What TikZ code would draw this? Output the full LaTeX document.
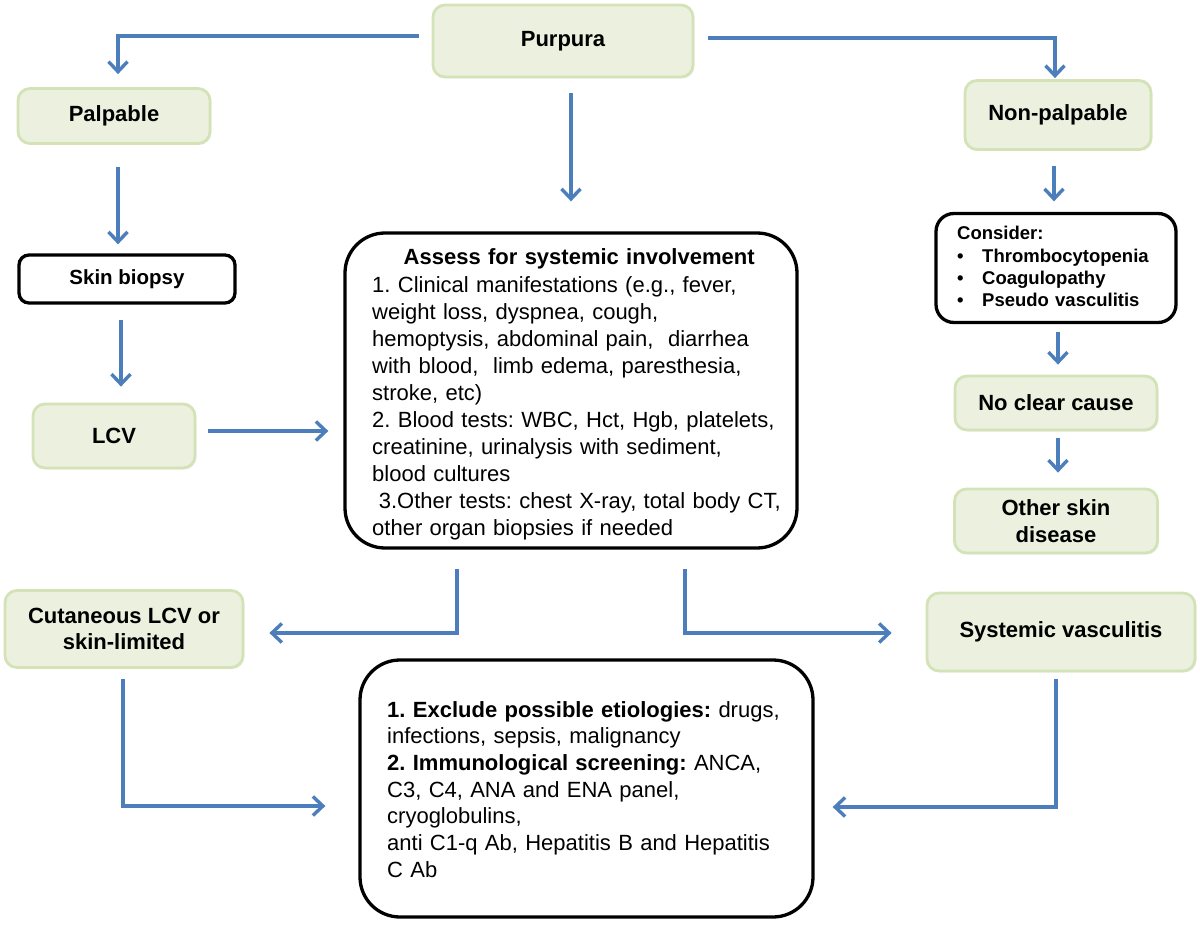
\documentclass[tikz,border=0pt]{standalone}
\usepackage{fontspec}
\setmainfont{Liberation Sans}
\usetikzlibrary{arrows.meta,calc,shadows}
\definecolor{gfill}{RGB}{235,241,222}
\definecolor{gline}{RGB}{212,226,184}
\definecolor{arrblue}{RGB}{76,126,188}
\frenchspacing
\tikzset{
  gbox/.style={draw=gline, fill=gfill, line width=2.8pt, rounded corners=12pt, inner sep=0pt,
    align=center, font=\fontsize{22}{26.5}\selectfont\bfseries,
    drop shadow={opacity=0.12, shadow xshift=1.5pt, shadow yshift=-1.5pt}},
  kbox/.style={draw=black, fill=white, line width=3.3pt, inner sep=0pt},
  arr/.style={draw=arrblue, line width=3.4pt, -{Straight Barb[length=10pt,width=19pt]}},
  txt/.style={inner sep=0pt, anchor=base west, align=left},
}
\begin{document}
\begin{tikzpicture}[x=1pt,y=-1pt]
\useasboundingbox (0,0) rectangle (1200,925);

% green boxes
\node[gbox, minimum width=260pt, minimum height=72pt] (purpura) at (563,41) {Purpura};
\node[gbox, minimum width=192pt, minimum height=55pt] (palp) at (114,116) {Palpable};
\node[gbox, minimum width=186pt, minimum height=69pt] (nonpalp) at (1058,115) {Non-palpable};
\node[gbox, minimum width=162pt, minimum height=64pt] (lcv) at (114,436) {LCV};
\node[gbox, minimum width=202pt, minimum height=54pt] (nocause) at (1056,403) {No clear cause};
\node[gbox, minimum width=203pt, minimum height=64pt, font=\fontsize{22}{27}\selectfont\bfseries] (otherskin) at (1056,521) {Other skin\\disease};
\node[gbox, minimum width=238pt, minimum height=77pt, font=\fontsize{22}{26}\selectfont\bfseries] (cutan) at (124,629) {Cutaneous LCV or\\skin-limited};
\node[gbox, minimum width=268pt, minimum height=78pt] (sysvasc) at (1061,632) {Systemic vasculitis};

% black boxes
\node[kbox, rounded corners=10pt, minimum width=216pt, minimum height=48pt,
  font=\fontsize{20.5}{24}\selectfont\bfseries] (skin) at (127,279) {Skin biopsy};
\node[kbox, rounded corners=40pt, minimum width=452pt, minimum height=315pt] (assess) at (571,390.5) {};
\node[kbox, rounded corners=18pt, minimum width=240pt, minimum height=109pt] (consider) at (1056,268) {};
\node[kbox, rounded corners=40pt, minimum width=453pt, minimum height=257pt] (bottom) at (586.5,788.5) {};

% texts inside black boxes
\node[txt, text width=414pt, font=\fontsize{22}{27.1}\selectfont] (assesstext) at (372,265) {%
\makebox[\linewidth][c]{\bfseries Assess for systemic involvement}\\
1. Clinical manifestations (e.g., fever,\\
weight loss, dyspnea, cough,\\
hemoptysis, abdominal pain,\ \ diarrhea\\
with blood,\ \ limb edema, paresthesia,\\
stroke, etc)\\
2. Blood tests: WBC, Hct, Hgb, platelets,\\
creatinine, urinalysis with sediment,\\
blood cultures\\
\hspace*{0.3em}3.Other tests: chest X-ray, total body CT,\\
other organ biopsies if needed};

\node[txt, text width=215pt, font=\fontsize{18.5}{22.3}\selectfont\bfseries] (considertext) at (957,240) {%
Consider:\\
\makebox[25pt][l]{\textbullet}Thrombocytopenia\\
\makebox[25pt][l]{\textbullet}Coagulopathy\\
\makebox[25pt][l]{\textbullet}Pseudo vasculitis};

\node[txt, text width=430pt, font=\fontsize{22}{26.7}\selectfont] (bottomtext) at (387,717) {%
\textbf{1. Exclude possible etiologies:} drugs,\\
infections, sepsis, malignancy\\
\textbf{2. Immunological screening:} ANCA,\\
C3, C4, ANA and ENA panel,\\
cryoglobulins,\\
anti C1-q Ab, Hepatitis B and Hepatitis\\
C Ab};

% connectors
\draw[arr] ($(purpura.west)+(-13,-5)$) -| ($(palp.north)+(4,-13)$);
\draw[arr] ($(purpura.east)+(14,-3)$) -| ($(nonpalp.north)+(-3,-1)$);
\draw[arr] ($(purpura.south)+(8,15)$) -- ($(assess.north)+(0,-30)$);
\draw[arr] ($(palp.south)+(4,22)$) -- ($(skin.north)+(-9,-9)$);
\draw[arr] ($(skin.south)+(-6,15)$) -- ($(lcv.north)+(7,-16)$);
\draw[arr] ($(lcv.east)+(12,-5)$) -- ($(assess.west|-lcv.east)+(-15,-5)$);
\draw[arr] ($(nonpalp.south)+(-4,15.5)$) -- ($(consider.north)+(-2,-10.5)$);
\draw[arr] ($(consider.south)+(2,7.5)$) -- ($(nocause.north)+(2,-10)$);
\draw[arr] ($(nocause.south)+(2,7)$) -- ($(otherskin.north)+(2,-15)$);
\draw[arr] ($(assess.south)+(-114,19)$) |- ($(cutan.east)+(25,4)$);
\draw[arr] ($(assess.south)+(114,19)$) |- ($(sysvasc.west)+(-34,1)$);
\draw[arr] ($(cutan.south)+(-1,10)$) |- ($(bottom.west)+(-33,17.5)$);
\draw[arr] ($(sysvasc.south)+(-5,7)$) |- ($(bottom.east)+(18,18.5)$);
\end{tikzpicture}
\end{document}
